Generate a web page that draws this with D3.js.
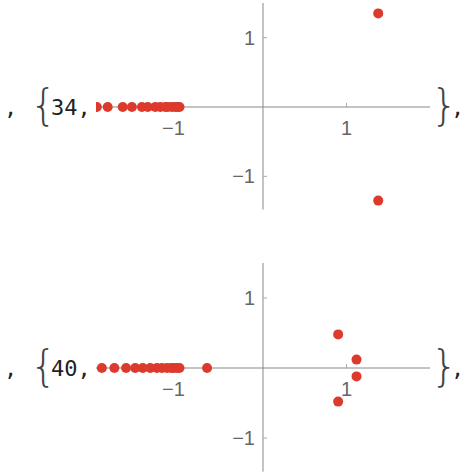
<!DOCTYPE html>
<html><head><meta charset="utf-8">
<script src="https://cdn.jsdelivr.net/npm/d3@7"></script>
<style>body{margin:0;background:#fff}</style></head>
<body><script>
const labels = ["34", "40"];
const xs34 = [-1.99,-1.86,-1.68,-1.57,-1.45,-1.38,-1.29,-1.23,-1.17,-1.14,-1.09,-1.05,-1.02,-1.0,1.38,1.38];
const ys34 = [0,0,0,0,0,0,0,0,0,0,0,0,0,0,1.35,-1.35];
const xs40 = [-1.93,-1.78,-1.64,-1.53,-1.44,-1.35,-1.27,-1.21,-1.15,-1.10,-1.07,-1.03,-1.0,-0.67,0.9,1.12,1.12,0.9];
const ys40 = [0,0,0,0,0,0,0,0,0,0,0,0,0,0,0.48,0.12,-0.12,-0.48];
const ticks = [-1, 1];
const panels = [
  {label: labels[0], xs: xs34, ys: ys34, y0: 3, y1: 211},
  {label: labels[1], xs: xs40, ys: ys40, y0: 263, y1: 473}
];
const svg = d3.select("body").append("svg").attr("width",474).attr("height",474);
const x = d3.scaleLinear().domain([-2,2]).range([96,430]);
const fmt = d => d < 0 ? "\u2212" + Math.abs(d) : String(d);
const tf = "Liberation Sans, Arial";
panels.forEach(p => {
  const y = d3.scaleLinear().domain([-1.5,1.5]).range([p.y1,p.y0]);
  const g = svg.append("g");
  const cy = y(0);
  g.append("line").attr("x1",x(-2)).attr("x2",x(2)).attr("y1",cy).attr("y2",cy).attr("stroke","#888").attr("stroke-width",1);
  g.append("line").attr("x1",x(0)).attr("x2",x(0)).attr("y1",y(1.5)).attr("y2",y(-1.48)).attr("stroke","#888").attr("stroke-width",1);
  ticks.forEach(t => {
    g.append("line").attr("x1",x(t)).attr("x2",x(t)).attr("y1",cy).attr("y2",cy-4).attr("stroke","#aaa");
    g.append("text").attr("x",x(t)-(t<0?6:0)).attr("y",cy+28).attr("text-anchor","middle")
      .attr("font-family",tf).attr("font-size",20).attr("fill","#666").text(fmt(t));
    g.append("line").attr("x1",x(0)).attr("x2",x(0)+4).attr("y1",y(t)).attr("y2",y(t)).attr("stroke","#aaa");
    g.append("text").attr("x",x(0)-8).attr("y",y(t)+7).attr("text-anchor","end")
      .attr("font-family",tf).attr("font-size",20).attr("fill","#666").text(fmt(t));
  });
  const clip = "c"+p.label;
  svg.append("clipPath").attr("id",clip).append("rect").attr("x",x(-2)).attr("y",0).attr("width",474).attr("height",474);
  g.append("g").attr("clip-path",`url(#${clip})`).selectAll("circle").data(p.xs.map((v,i)=>[v,p.ys[i]])).join("circle")
    .attr("cx",d=>x(d[0])).attr("cy",d=>y(d[1])).attr("r",5).attr("fill","#dc3a2c");
  const mono = "DejaVu Sans Mono, monospace";
  g.append("text").attr("x",4).attr("y",cy+8).attr("font-family",mono).attr("font-size",22).attr("fill","#222").text(",");
  g.append("text").attr("x",30).attr("y",cy+13).attr("font-family","DejaVu Sans, sans-serif").attr("font-size",42).attr("font-weight",200).attr("fill","#444").text("{");
  g.append("text").attr("x",51).attr("y",cy+8).attr("font-family",mono).attr("font-size",22).attr("fill","#222").text(p.label + ",");
  g.append("text").attr("x",431).attr("y",cy+13).attr("font-family","DejaVu Sans, sans-serif").attr("font-size",42).attr("font-weight",200).attr("fill","#444").text("}");
  g.append("text").attr("x",451).attr("y",cy+8).attr("font-family",mono).attr("font-size",22).attr("fill","#222").text(",");
});
</script></body></html>
